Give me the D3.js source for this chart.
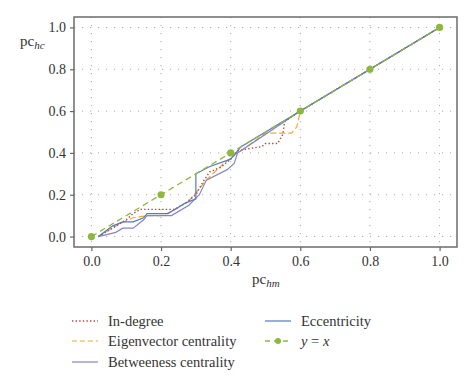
<!DOCTYPE html>
<html>
<head>
<meta charset="utf-8">
<script src="https://cdn.jsdelivr.net/npm/d3@7"></script>
<style>
body { margin: 0; background: #fff; }
text { font-family: "Liberation Serif", "DejaVu Serif", serif; fill: #333; }
</style>
</head>
<body>
<svg id="chart" width="474" height="387"></svg>
<script>
// values (x = pc_hm, y = pc_hc)
var inDegreeX = [0.02, 0.06, 0.10, 0.12, 0.14, 0.24, 0.27, 0.30, 0.32, 0.34, 0.37, 0.40, 0.42, 0.45, 0.49, 0.50, 0.535, 0.55, 0.555, 0.6, 0.8, 1.0];
var inDegreeY = [0.00, 0.04, 0.08, 0.11, 0.13, 0.13, 0.16, 0.20, 0.26, 0.31, 0.33, 0.37, 0.41, 0.42, 0.43, 0.445, 0.445, 0.49, 0.55, 0.6, 0.8, 1.0];

var eigenX = [0.02, 0.08, 0.12, 0.16, 0.20, 0.23, 0.28, 0.33, 0.38, 0.42, 0.48, 0.50, 0.575, 0.59, 0.60, 0.8, 1.0];
var eigenY = [0.00, 0.06, 0.09, 0.10, 0.10, 0.12, 0.17, 0.27, 0.35, 0.40, 0.47, 0.495, 0.495, 0.525, 0.60, 0.8, 1.0];

var betweenX = [0.02, 0.07, 0.09, 0.12, 0.15, 0.16, 0.23, 0.28, 0.31, 0.33, 0.39, 0.41, 0.42, 0.6, 0.8, 1.0];
var betweenY = [0.00, 0.02, 0.04, 0.04, 0.08, 0.10, 0.10, 0.15, 0.20, 0.27, 0.32, 0.35, 0.40, 0.6, 0.8, 1.0];

var eccX = [0.02, 0.06, 0.09, 0.12, 0.15, 0.16, 0.22, 0.27, 0.30, 0.30, 0.34, 0.40, 0.43, 0.6, 0.8, 1.0];
var eccY = [0.00, 0.05, 0.07, 0.07, 0.09, 0.11, 0.11, 0.16, 0.18, 0.30, 0.335, 0.37, 0.43, 0.6, 0.8, 1.0];

var identityX = [0.0, 0.2, 0.4, 0.6, 0.8, 1.0];

var tickValues = [0.0, 0.2, 0.4, 0.6, 0.8, 1.0];

var seriesNames = ['In-degree', 'Eigenvector centrality', 'Betweeness centrality', 'Eccentricity', 'y = x'];

var plotLeft = 74, plotRight = 457, plotTop = 17, plotBottom = 247;

var svg = d3.select('#chart');

var x = d3.scaleLinear().domain([-0.05, 1.05]).range([plotLeft, plotRight]);
var y = d3.scaleLinear().domain([-0.05, 1.05]).range([plotBottom, plotTop]);

// dotted grid
var grid = svg.append('g').attr('class', 'grid');
grid.selectAll('.gx').data(tickValues).enter().append('line')
	.attr('x1', function (d) { return x(d); })
	.attr('x2', function (d) { return x(d); })
	.attr('y1', plotTop).attr('y2', plotBottom);
grid.selectAll('.gy').data(tickValues).enter().append('line')
	.attr('y1', function (d) { return y(d); })
	.attr('y2', function (d) { return y(d); })
	.attr('x1', plotLeft).attr('x2', plotRight);
grid.selectAll('line')
	.attr('stroke', '#aaa')
	.attr('stroke-width', 1)
	.attr('stroke-dasharray', '1.2,6.8');

// axes
var fmt = d3.format('.1f');
var xAxis = svg.append('g').attr('transform', 'translate(0,' + plotBottom + ')')
	.call(d3.axisBottom(x).tickValues(tickValues).tickFormat(fmt).tickSize(4).tickPadding(5));
var yAxis = svg.append('g').attr('transform', 'translate(' + plotLeft + ',0)')
	.call(d3.axisLeft(y).tickValues(tickValues).tickFormat(fmt).tickSize(4).tickPadding(4));

[xAxis, yAxis].forEach(function (a) {
	a.select('.domain').remove();
	a.selectAll('.tick line').attr('stroke', '#666').attr('stroke-width', 1.2);
	a.selectAll('.tick text')
		.attr('font-family', '"Liberation Serif", serif')
		.attr('font-size', '14px')
		.attr('fill', '#333');
});

// frame
svg.append('rect')
	.attr('x', plotLeft).attr('y', plotTop)
	.attr('width', plotRight - plotLeft).attr('height', plotBottom - plotTop)
	.attr('fill', 'none')
	.attr('stroke', '#6b6b6b')
	.attr('stroke-width', 1.5);

var styles = [
	{color: '#b5473a', dash: '1.4,2.2', width: 1.4},
	{color: '#f0a830', dash: '6,3', width: 1.2},
	{color: '#8487c2', dash: null, width: 1.2},
	{color: '#5479c9', dash: null, width: 1.2},
	{color: '#8db83f', dash: '6,4', width: 1.3}
];

var zip = function (xs, ys) { return xs.map(function (d, i) { return [d, ys[i]]; }); };
var series = [
	zip(inDegreeX, inDegreeY),
	zip(eigenX, eigenY),
	zip(betweenX, betweenY),
	zip(eccX, eccY),
	zip(identityX, identityX)
];

var line = d3.line()
	.x(function (d) { return x(d[0]); })
	.y(function (d) { return y(d[1]); });

var plot = svg.append('g');
// y = x drawn last so its dashes sit over the other curves
[1, 0, 2, 3, 4].forEach(function (k) {
	plot.append('path')
		.datum(series[k])
		.attr('d', line)
		.attr('fill', 'none')
		.attr('stroke', styles[k].color)
		.attr('stroke-width', styles[k].width)
		.attr('stroke-dasharray', styles[k].dash);
});

plot.selectAll('.marker').data(series[4]).enter().append('circle')
	.attr('cx', function (d) { return x(d[0]); })
	.attr('cy', function (d) { return y(d[1]); })
	.attr('r', 3.6)
	.attr('fill', styles[4].color);

// axis titles
var xt = svg.append('text')
	.attr('x', 252).attr('y', 284)
	.attr('font-size', '15px');
xt.append('tspan').text('pc');
xt.append('tspan').attr('dy', 3).attr('font-size', '11px').attr('font-style', 'italic').text('hm');

var yt = svg.append('text')
	.attr('x', 20).attr('y', 46)
	.attr('font-size', '15px');
yt.append('tspan').text('pc');
yt.append('tspan').attr('dy', 3).attr('font-size', '11px').attr('font-style', 'italic').text('hc');

// legend
var legendPos = [
	{x: 72, y: 321}, {x: 72, y: 341}, {x: 72, y: 362},
	{x: 265, y: 321}, {x: 265, y: 341}
];

var legend = svg.append('g');
seriesNames.forEach(function (name, i) {
	var p = legendPos[i];
	legend.append('line')
		.attr('x1', p.x).attr('x2', p.x + 26)
		.attr('y1', p.y).attr('y2', p.y)
		.attr('stroke', styles[i].color)
		.attr('stroke-width', styles[i].width)
		.attr('stroke-dasharray', i == 4 ? '5,4' : (i == 1 ? '5,3' : styles[i].dash));
	if (i == 4) {
		legend.append('circle')
			.attr('cx', p.x + 13).attr('cy', p.y).attr('r', 3)
			.attr('fill', styles[i].color);
	}
	var t = legend.append('text')
		.attr('x', p.x + 36).attr('y', p.y + 4.5)
		.attr('font-size', '14.5px');
	if (i == 4) {
		t.append('tspan').attr('font-style', 'italic').text('y');
		t.append('tspan').text(' = ');
		t.append('tspan').attr('font-style', 'italic').text('x');
	} else {
		t.text(name);
	}
});
</script>
</body>
</html>
